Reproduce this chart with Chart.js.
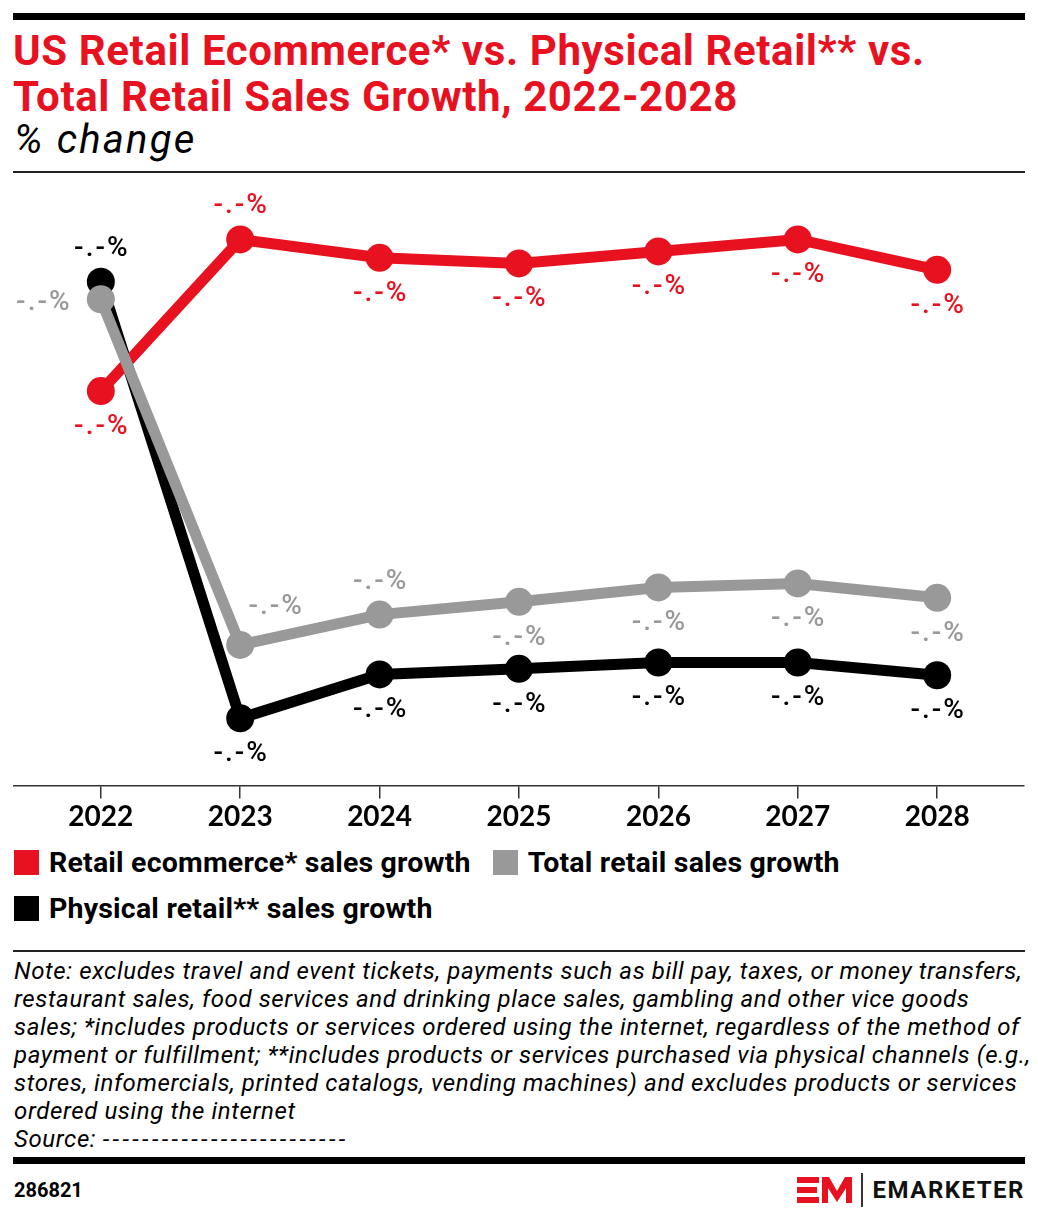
<!DOCTYPE html>
<html>
<head>
<meta charset="utf-8">
<script src="https://cdn.jsdelivr.net/npm/chart.js@4.4.1/dist/chart.umd.min.js"></script>
<style>
  body { margin: 0; background: #fff; }
  #page { position: relative; width: 1038px; height: 1218px; background: #fff; font-family: Roboto, "Noto Sans", sans-serif; }
  .bar { position: absolute; left: 13px; width: 1012px; background: #000; }
  #title { position: absolute; left: 13px; top: 28px; font-weight: 700; font-size: 42px; line-height: 46px; color: #e8111f; letter-spacing: 0.6px; white-space: nowrap; }
  #subtitle { position: absolute; left: 14px; top: 117px; font-style: italic; font-size: 40px; line-height: 46px; letter-spacing: 2.2px; color: #000; }
  #chartBox { position: absolute; left: 0; top: 168px; width: 1038px; height: 672px; }
  .legend { position: absolute; left: 14px; font-weight: 700; font-size: 28.5px; line-height: 34px; letter-spacing: 0.2px; color: #000; white-space: nowrap; }
  .legend span.sw { display: inline-block; width: 25px; height: 25px; vertical-align: -3px; margin-right: 10px; }
  #note { position: absolute; left: 14px; top: 957px; font-style: italic; font-size: 24px; line-height: 28px; letter-spacing: 0.62px; color: #000; white-space: nowrap; }
  #chartId { position: absolute; left: 14px; top: 1178px; font-weight: 700; font-size: 20px; }
  #logo { position: absolute; right: 13px; top: 1172px; height: 36px; display: flex; align-items: center; }
</style>
</head>
<body>
<div id="page">
  <div class="bar" style="top:13px;height:7px"></div>
  <div id="title">US Retail Ecommerce* vs. Physical Retail** vs.<br>Total Retail Sales Growth, 2022-2028</div>
  <div id="subtitle">% change</div>
  <div class="bar" style="top:171px;height:2px;background:#222"></div>

  <div id="chartBox"><canvas id="growthChart"></canvas></div>

  <div class="legend" style="top:846px"><span class="sw" style="background:#e8111f"></span>Retail ecommerce* sales growth<span class="sw" style="background:#999;margin-left:22px"></span>Total retail sales growth</div>
  <div class="legend" style="top:892px"><span class="sw" style="background:#000"></span>Physical retail** sales growth</div>

  <div class="bar" style="top:950px;height:2px;background:#222"></div>
  <div id="note">Note: excludes travel and event tickets, payments such as bill pay, taxes, or money transfers,<br>restaurant sales, food services and drinking place sales, gambling and other vice goods<br>sales; *includes products or services ordered using the internet, regardless of the method of<br>payment or fulfillment; **includes products or services purchased via physical channels (e.g.,<br>stores, infomercials, printed catalogs, vending machines) and excludes products or services<br>ordered using the internet<br>Source: <span style="letter-spacing:3.4px">-------------------------</span></div>
  <div class="bar" style="top:1157px;height:7px"></div>
  <div id="chartId">286821</div>
  <div id="logo">
    <svg width="56" height="30" viewBox="0 0 56 30">
      <rect x="0" y="2" width="22" height="6" fill="#e8111f"/>
      <rect x="0" y="12" width="20" height="6" fill="#e8111f"/>
      <rect x="0" y="22" width="22" height="6" fill="#e8111f"/>
      <polygon points="25,28 25,2 32,2 40,16 48,2 55,2 55,28 49,28 49,13 40,27 31,13 31,28" fill="#e8111f"/>
    </svg>
    <div style="width:1.5px;height:34px;background:#333;margin:0 10px 0 8px"></div>
    <div style="font-weight:700;font-size:24px;letter-spacing:1.5px;color:#111">EMARKETER</div>
  </div>
</div>

<script>
// Years on the x axis
const years = [2022, 2023, 2024, 2025, 2026, 2027, 2028];

// % change (labels are masked as -.-%)
const ecommerceGrowth = [6.09, 7.99, 7.76, 7.69, 7.84, 7.99, 7.61];
const totalGrowth     = [7.24, 2.91, 3.29, 3.45, 3.63, 3.68, 3.50];
const physicalGrowth  = [7.46, 1.99, 2.54, 2.61, 2.69, 2.69, 2.53];

const seriesLabels = ['Retail ecommerce* sales growth', 'Total retail sales growth', 'Physical retail** sales growth'];
const valueLabel = '-.-%';

// where each value label sits relative to its point
const labelPos = [
    ['below', 'above', 'below', 'below', 'below', 'below', 'below'],
    ['left', 'aboveRight', 'above', 'below', 'below', 'below', 'below'],
    ['above', 'below', 'below', 'below', 'below', 'below', 'below']
];
const labelOffsets = {
    above: [0, -33],
    below: [0, 36],
    left: [-58, 4],
    aboveRight: [35, -38]
};

const RED = '#e8111f', GRAY = '#999999', BLACK = '#000000';

function toPoints(values) {
    return years.map((yr, i) => ({ x: yr, y: values[i] }));
}

function lineSet(label, values, color, order) {
    return {
        label: label,
        data: toPoints(values),
        borderColor: color,
        backgroundColor: color,
        pointBackgroundColor: color,
        pointBorderWidth: 0,
        pointRadius: 14,
        borderWidth: 11,
        tension: 0,
        order: order
    };
}

// draws the -.-% labels next to each point
const valueLabels = {
    id: 'valueLabels',
    afterDatasetsDraw(chart) {
        const ctx = chart.ctx;
        ctx.save();
        ctx.font = '500 28px Roboto, "Noto Sans", sans-serif';
        ctx.letterSpacing = '2px';
        ctx.textAlign = 'center';
        ctx.textBaseline = 'middle';
        chart.data.datasets.forEach((ds, di) => {
            const meta = chart.getDatasetMeta(di);
            ctx.fillStyle = ds.borderColor;
            meta.data.forEach((pt, i) => {
                const off = labelOffsets[labelPos[di][i]];
                ctx.fillText(valueLabel, pt.x + off[0] + 1, pt.y + off[1]);
            });
        });
        ctx.restore();
    }
};

const ctx = document.getElementById('growthChart').getContext('2d');
new Chart(ctx, {
    type: 'line',
    data: {
        datasets: [
            lineSet(seriesLabels[0], ecommerceGrowth, RED, 1),
            lineSet(seriesLabels[1], totalGrowth, GRAY, 0),
            lineSet(seriesLabels[2], physicalGrowth, BLACK, 2)
        ]
    },
    options: {
        responsive: true,
        maintainAspectRatio: false,
        animation: false,
        layout: { padding: { left: 13, right: 13, top: 5, bottom: 4 } },
        plugins: {
            legend: { display: false },
            tooltip: { enabled: false }
        },
        scales: {
            x: {
                type: 'linear',
                min: 2021.377,
                max: 2028.623,
                afterBuildTicks: axis => { axis.ticks = years.map(v => ({ value: v })); },
                ticks: {
                    padding: 2,
                    color: '#000',
                    font: { family: 'Lato, "Noto Sans", sans-serif', size: 28, weight: 'bold' },
                    callback: v => String(v)
                },
                grid: { display: true, drawOnChartArea: false, tickLength: 13, color: '#333', lineWidth: 1.5 },
                border: { display: true, color: '#333', width: 1.5 }
            },
            y: {
                display: false,
                min: 1.15,
                max: 8.71
            }
        }
    },
    plugins: [valueLabels]
});
</script>
</body>
</html>
